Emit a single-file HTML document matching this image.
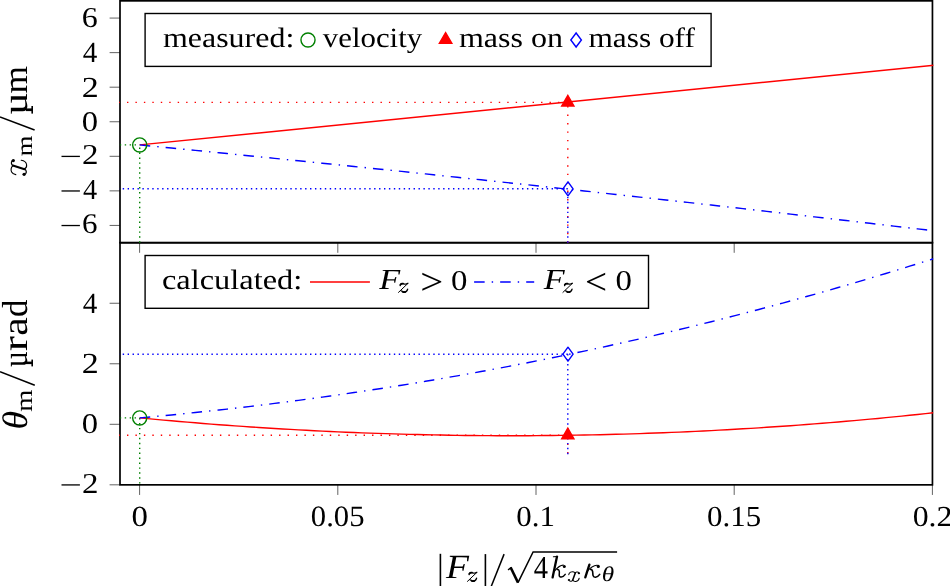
<!DOCTYPE html>
<html><head><meta charset="utf-8"><title>plot</title>
<style>html,body{margin:0;padding:0;background:#fff;overflow:hidden}svg{display:block;will-change:transform}</style></head>
<body><svg width="950" height="586" viewBox="0 0 950 586">
<rect width="950" height="586" fill="#fff"/>
<defs><clipPath id="ct"><rect x="119.15" y="0.0" width="814.1500000000001" height="243.54999999999998"/></clipPath><clipPath id="cb"><rect x="119.15" y="241.85" width="814.1500000000001" height="243.85000000000002"/></clipPath></defs><rect x="120.0" y="0.85" width="812.45" height="241.85" fill="none" stroke="#000" stroke-width="1.7"/><rect x="120.0" y="242.7" width="812.45" height="242.15000000000003" fill="none" stroke="#000" stroke-width="1.7"/><path d="M109.60,18.07L120.00,18.07" stroke="#000" stroke-width="0.62" fill="none" stroke-linecap="butt"/><path d="M109.60,52.63L120.00,52.63" stroke="#000" stroke-width="0.62" fill="none" stroke-linecap="butt"/><path d="M109.60,87.19L120.00,87.19" stroke="#000" stroke-width="0.62" fill="none" stroke-linecap="butt"/><path d="M109.60,121.75L120.00,121.75" stroke="#000" stroke-width="0.62" fill="none" stroke-linecap="butt"/><path d="M109.60,156.31L120.00,156.31" stroke="#000" stroke-width="0.62" fill="none" stroke-linecap="butt"/><path d="M109.60,190.87L120.00,190.87" stroke="#000" stroke-width="0.62" fill="none" stroke-linecap="butt"/><path d="M109.60,225.43L120.00,225.43" stroke="#000" stroke-width="0.62" fill="none" stroke-linecap="butt"/><path d="M109.60,303.26L120.00,303.26" stroke="#000" stroke-width="0.62" fill="none" stroke-linecap="butt"/><path d="M109.60,363.78L120.00,363.78" stroke="#000" stroke-width="0.62" fill="none" stroke-linecap="butt"/><path d="M109.60,424.30L120.00,424.30" stroke="#000" stroke-width="0.62" fill="none" stroke-linecap="butt"/><path d="M109.60,484.82L120.00,484.82" stroke="#000" stroke-width="0.62" fill="none" stroke-linecap="butt"/><path d="M139.60,242.70L139.60,252.80" stroke="#000" stroke-width="0.62" fill="none" stroke-linecap="butt"/><path d="M139.60,484.85L139.60,494.95" stroke="#000" stroke-width="0.62" fill="none" stroke-linecap="butt"/><path d="M337.80,242.70L337.80,252.80" stroke="#000" stroke-width="0.62" fill="none" stroke-linecap="butt"/><path d="M337.80,484.85L337.80,494.95" stroke="#000" stroke-width="0.62" fill="none" stroke-linecap="butt"/><path d="M536.00,242.70L536.00,252.80" stroke="#000" stroke-width="0.62" fill="none" stroke-linecap="butt"/><path d="M536.00,484.85L536.00,494.95" stroke="#000" stroke-width="0.62" fill="none" stroke-linecap="butt"/><path d="M734.20,242.70L734.20,252.80" stroke="#000" stroke-width="0.62" fill="none" stroke-linecap="butt"/><path d="M734.20,484.85L734.20,494.95" stroke="#000" stroke-width="0.62" fill="none" stroke-linecap="butt"/><path d="M932.40,242.70L932.40,252.80" stroke="#000" stroke-width="0.62" fill="none" stroke-linecap="butt"/><path d="M932.40,484.85L932.40,494.95" stroke="#000" stroke-width="0.62" fill="none" stroke-linecap="butt"/><g clip-path="url(#ct)"><path d="M119.80,144.90L139.70,144.90" stroke="#008000" stroke-width="1.41" fill="none" stroke-linecap="butt" stroke-dasharray="1.41 3.52" stroke-dashoffset="0"/><path d="M139.70,242.70L139.70,144.90" stroke="#008000" stroke-width="1.41" fill="none" stroke-linecap="butt" stroke-dasharray="1.41 3.52" stroke-dashoffset="0"/><path d="M567.80,102.40L118.00,102.40" stroke="#ff0000" stroke-width="1.41" fill="none" stroke-linecap="butt" stroke-dasharray="1.41 7.04" stroke-dashoffset="0"/><path d="M567.80,242.70L567.80,102.40" stroke="#ff0000" stroke-width="1.41" fill="none" stroke-linecap="butt" stroke-dasharray="1.41 7.04" stroke-dashoffset="0"/><path d="M567.80,188.80L118.00,188.80" stroke="#0000ff" stroke-width="1.41" fill="none" stroke-linecap="butt" stroke-dasharray="1.41 3.52" stroke-dashoffset="0"/><path d="M567.80,242.70L567.80,188.80" stroke="#0000ff" stroke-width="1.41" fill="none" stroke-linecap="butt" stroke-dasharray="1.41 3.52" stroke-dashoffset="0"/><path d="M139.70,144.90L934.45,65.20" stroke="#ff0000" stroke-width="1.41" fill="none" stroke-linecap="butt"/><path d="M139.70,144.90L147.64,145.68L155.57,146.46L163.51,147.24L171.45,148.02L179.39,148.80L187.32,149.59L195.26,150.38L203.20,151.17L211.14,151.96L219.07,152.75L227.01,153.54L234.95,154.34L242.89,155.14L250.82,155.93L258.76,156.73L266.70,157.54L274.64,158.34L282.57,159.15L290.51,159.95L298.45,160.76L306.39,161.57L314.32,162.38L322.26,163.20L330.20,164.01L338.14,164.83L346.07,165.65L354.01,166.47L361.95,167.29L369.89,168.11L377.82,168.94L385.76,169.76L393.70,170.59L401.64,171.42L409.57,172.25L417.51,173.09L425.45,173.92L433.39,174.76L441.32,175.60L449.26,176.44L457.20,177.28L465.14,178.12L473.07,178.97L481.01,179.81L488.95,180.66L496.89,181.51L504.82,182.36L512.76,183.21L520.70,184.07L528.64,184.92L536.58,185.78L544.51,186.64L552.45,187.50L560.39,188.36L568.33,189.23L576.26,190.10L584.20,190.96L592.14,191.83L600.08,192.70L608.01,193.58L615.95,194.45L623.89,195.33L631.83,196.20L639.76,197.08L647.70,197.96L655.64,198.84L663.58,199.73L671.51,200.61L679.45,201.50L687.39,202.39L695.33,203.28L703.26,204.17L711.20,205.07L719.14,205.96L727.08,206.86L735.01,207.76L742.95,208.66L750.89,209.56L758.83,210.46L766.76,211.37L774.70,212.28L782.64,213.19L790.58,214.10L798.51,215.01L806.45,215.92L814.39,216.84L822.33,217.75L830.26,218.67L838.20,219.59L846.14,220.51L854.08,221.44L862.01,222.36L869.95,223.29L877.89,224.22L885.83,225.15L893.76,226.08L901.70,227.01L909.64,227.94L917.58,228.88L925.51,229.82L933.45,230.76" stroke="#0000ff" stroke-width="1.41" fill="none" stroke-linejoin="round" stroke-dasharray="10.56 7.04 1.41 7.04"/></g><circle cx="139.70" cy="144.90" r="7.04" stroke="#008000" stroke-width="1.41" fill="none"/><path d="M567.80,95.36L573.90,105.92L561.70,105.92Z" fill="#ff0000" stroke="#ff0000" stroke-width="1.41" stroke-linejoin="miter"/><path d="M568.00,181.80L573.10,188.80L568.00,195.80L562.90,188.80Z" fill="none" stroke="#0000ff" stroke-width="1.41" stroke-linejoin="round"/><g clip-path="url(#cb)"><path d="M119.80,417.90L139.70,417.90" stroke="#008000" stroke-width="1.41" fill="none" stroke-linecap="butt" stroke-dasharray="1.41 3.52" stroke-dashoffset="0"/><path d="M139.70,417.90L139.70,484.85" stroke="#008000" stroke-width="1.41" fill="none" stroke-linecap="butt" stroke-dasharray="1.41 3.52" stroke-dashoffset="4.73"/><path d="M567.80,435.20L118.00,435.20" stroke="#ff0000" stroke-width="1.41" fill="none" stroke-linecap="butt" stroke-dasharray="1.41 7.04" stroke-dashoffset="0"/><path d="M567.80,435.20L567.80,454.56" stroke="#ff0000" stroke-width="1.41" fill="none" stroke-linecap="butt" stroke-dasharray="1.41 7.04" stroke-dashoffset="0"/><path d="M567.80,354.20L118.00,354.20" stroke="#0000ff" stroke-width="1.41" fill="none" stroke-linecap="butt" stroke-dasharray="1.41 3.52" stroke-dashoffset="0"/><path d="M567.80,354.20L567.80,454.56" stroke="#0000ff" stroke-width="1.41" fill="none" stroke-linecap="butt" stroke-dasharray="1.41 3.52" stroke-dashoffset="0"/><path d="M139.70,417.90L147.64,418.65L155.57,419.39L163.51,420.11L171.45,420.81L179.39,421.50L187.32,422.17L195.26,422.82L203.20,423.46L211.14,424.09L219.07,424.69L227.01,425.28L234.95,425.85L242.89,426.41L250.82,426.95L258.76,427.48L266.70,427.99L274.64,428.48L282.57,428.96L290.51,429.42L298.45,429.86L306.39,430.29L314.32,430.70L322.26,431.09L330.20,431.47L338.14,431.84L346.07,432.18L354.01,432.51L361.95,432.83L369.89,433.12L377.82,433.41L385.76,433.67L393.70,433.92L401.64,434.15L409.57,434.37L417.51,434.57L425.45,434.75L433.39,434.92L441.32,435.07L449.26,435.21L457.20,435.33L465.14,435.43L473.07,435.52L481.01,435.59L488.95,435.64L496.89,435.68L504.82,435.70L512.76,435.71L520.70,435.70L528.64,435.67L536.58,435.63L544.51,435.57L552.45,435.49L560.39,435.40L568.33,435.29L576.26,435.17L584.20,435.03L592.14,434.87L600.08,434.70L608.01,434.51L615.95,434.31L623.89,434.08L631.83,433.85L639.76,433.59L647.70,433.32L655.64,433.04L663.58,432.73L671.51,432.41L679.45,432.08L687.39,431.73L695.33,431.36L703.26,430.98L711.20,430.58L719.14,430.16L727.08,429.73L735.01,429.28L742.95,428.81L750.89,428.33L758.83,427.84L766.76,427.32L774.70,426.79L782.64,426.25L790.58,425.68L798.51,425.11L806.45,424.51L814.39,423.90L822.33,423.27L830.26,422.63L838.20,421.97L846.14,421.29L854.08,420.60L862.01,419.89L869.95,419.17L877.89,418.43L885.83,417.67L893.76,416.90L901.70,416.11L909.64,415.30L917.58,414.48L925.51,413.64L933.45,412.79" stroke="#ff0000" stroke-width="1.41" fill="none" stroke-linejoin="round"/><path d="M139.70,417.90L147.64,417.18L155.57,416.45L163.51,415.70L171.45,414.94L179.39,414.15L187.32,413.35L195.26,412.54L203.20,411.70L211.14,410.85L219.07,409.98L227.01,409.09L234.95,408.19L242.89,407.27L250.82,406.33L258.76,405.38L266.70,404.41L274.64,403.42L282.57,402.41L290.51,401.39L298.45,400.35L306.39,399.29L314.32,398.21L322.26,397.12L330.20,396.01L338.14,394.88L346.07,393.73L354.01,392.57L361.95,391.39L369.89,390.19L377.82,388.97L385.76,387.74L393.70,386.49L401.64,385.22L409.57,383.93L417.51,382.63L425.45,381.31L433.39,379.97L441.32,378.61L449.26,377.23L457.20,375.84L465.14,374.43L473.07,373.00L481.01,371.55L488.95,370.09L496.89,368.61L504.82,367.11L512.76,365.59L520.70,364.05L528.64,362.50L536.58,360.92L544.51,359.33L552.45,357.72L560.39,356.10L568.33,354.45L576.26,352.79L584.20,351.11L592.14,349.41L600.08,347.69L608.01,345.95L615.95,344.20L623.89,342.42L631.83,340.63L639.76,338.82L647.70,336.99L655.64,335.15L663.58,333.28L671.51,331.40L679.45,329.50L687.39,327.58L695.33,325.64L703.26,323.68L711.20,321.71L719.14,319.71L727.08,317.70L735.01,315.67L742.95,313.62L750.89,311.55L758.83,309.46L766.76,307.35L774.70,305.23L782.64,303.08L790.58,300.92L798.51,298.74L806.45,296.54L814.39,294.32L822.33,292.08L830.26,289.82L838.20,287.55L846.14,285.25L854.08,282.94L862.01,280.60L869.95,278.25L877.89,275.88L885.83,273.49L893.76,271.08L901.70,268.65L909.64,266.20L917.58,263.74L925.51,261.25L933.45,258.74" stroke="#0000ff" stroke-width="1.41" fill="none" stroke-linejoin="round" stroke-dasharray="10.56 7.04 1.41 7.04"/></g><circle cx="139.70" cy="417.90" r="7.04" stroke="#008000" stroke-width="1.41" fill="none"/><path d="M567.80,428.16L573.90,438.72L561.70,438.72Z" fill="#ff0000" stroke="#ff0000" stroke-width="1.41" stroke-linejoin="miter"/><path d="M568.00,347.20L573.10,354.20L568.00,361.20L562.90,354.20Z" fill="none" stroke="#0000ff" stroke-width="1.41" stroke-linejoin="round"/><rect x="145.1" y="13.5" width="566.0" height="52.900000000000006" fill="#fff" stroke="#000" stroke-width="1.4"/><rect x="145.1" y="255.5" width="503.4" height="52.80000000000001" fill="#fff" stroke="#000" stroke-width="1.4"/><circle cx="308.00" cy="40.00" r="7.04" stroke="#008000" stroke-width="1.41" fill="none"/><path d="M445.60,32.55L451.84,43.35L439.36,43.35Z" fill="#ff0000" stroke="#ff0000" stroke-width="1.41" stroke-linejoin="miter"/><path d="M576.10,33.00L581.40,40.00L576.10,47.00L570.80,40.00Z" fill="none" stroke="#0000ff" stroke-width="1.41" stroke-linejoin="miter"/><path d="M310.00,282.00L369.90,282.00" stroke="#ff0000" stroke-width="1.41" fill="none" stroke-linecap="butt"/><path d="M474.10,282.00L534.20,282.00" stroke="#0000ff" stroke-width="1.41" fill="none" stroke-linecap="butt" stroke-dasharray="10.56 7.04 1.41 7.04" stroke-dashoffset="0"/><g transform="matrix(0,-1,1,0,10.7,175.9)" fill="none" stroke="#000" stroke-linecap="round"><path d="M10.3,2.2L6.7,13.8" stroke-width="2.1"/><path d="M10.2,2.4C11.0,0.6 13.5,0.2 15.0,1.4" stroke-width="1.25"/><path d="M9.9,1.9C8.5,0.2 5.5,0.0 3.8,0.9C2.3,1.7 1.4,3.4 1.3,5.1" stroke-width="1.12"/><path d="M6.7,13.8C6.0,15.6 3.7,16.1 2.3,15.0" stroke-width="1.25"/><path d="M7.0,13.6C7.6,15.3 9.5,16.1 11.2,15.9C13.4,15.6 15.3,13.2 15.7,10.5" stroke-width="1.12"/><circle cx="15.3" cy="2.6" r="1.65" fill="#000" stroke="none"/><circle cx="1.6" cy="13.4" r="1.65" fill="#000" stroke="none"/></g><g transform="matrix(0.726,0,0,0.623,567.8,571.6)" fill="none" stroke="#000" stroke-linecap="round"><path d="M10.3,2.2L6.7,13.8" stroke-width="2.1"/><path d="M10.2,2.4C11.0,0.6 13.5,0.2 15.0,1.4" stroke-width="1.6"/><path d="M9.9,1.9C8.5,0.2 5.5,0.0 3.8,0.9C2.3,1.7 1.4,3.4 1.3,5.1" stroke-width="1.44"/><path d="M6.7,13.8C6.0,15.6 3.7,16.1 2.3,15.0" stroke-width="1.6"/><path d="M7.0,13.6C7.6,15.3 9.5,16.1 11.2,15.9C13.4,15.6 15.3,13.2 15.7,10.5" stroke-width="1.44"/><circle cx="15.3" cy="2.6" r="1.65" fill="#000" stroke="none"/><circle cx="1.6" cy="13.4" r="1.65" fill="#000" stroke="none"/></g><g transform="matrix(1.0,0,0,1.0,398.05,283.1)" fill="none" stroke="#000" stroke-linecap="round"><path d="M2.1,2.5C2.4,0.9 3.6,0.3 4.6,0.5C5.8,0.7 7.0,1.2 8.0,0.9C8.8,0.7 9.4,0.5 9.8,0.3" stroke-width="1.25"/><path d="M2.3,1.6C3.0,0.6 4.0,0.4 5.0,0.6" stroke-width="1.7"/><path d="M9.8,0.35L0.45,9.3" stroke-width="1.0"/><path d="M3.0,7.8C4.0,7.5 4.8,9.0 6.2,9.0C7.8,9.0 9.1,7.8 9.6,6.1" stroke-width="1.25"/><path d="M4.6,8.6C5.2,9.0 6.0,9.1 7.0,8.9" stroke-width="1.9"/></g><g transform="matrix(1.0,0,0,1.0,562.45,283.1)" fill="none" stroke="#000" stroke-linecap="round"><path d="M2.1,2.5C2.4,0.9 3.6,0.3 4.6,0.5C5.8,0.7 7.0,1.2 8.0,0.9C8.8,0.7 9.4,0.5 9.8,0.3" stroke-width="1.25"/><path d="M2.3,1.6C3.0,0.6 4.0,0.4 5.0,0.6" stroke-width="1.7"/><path d="M9.8,0.35L0.45,9.3" stroke-width="1.0"/><path d="M3.0,7.8C4.0,7.5 4.8,9.0 6.2,9.0C7.8,9.0 9.1,7.8 9.6,6.1" stroke-width="1.25"/><path d="M4.6,8.6C5.2,9.0 6.0,9.1 7.0,8.9" stroke-width="1.9"/></g><g transform="matrix(1.0,0,0,1.0,467.0,572.1)" fill="none" stroke="#000" stroke-linecap="round"><path d="M2.1,2.5C2.4,0.9 3.6,0.3 4.6,0.5C5.8,0.7 7.0,1.2 8.0,0.9C8.8,0.7 9.4,0.5 9.8,0.3" stroke-width="1.25"/><path d="M2.3,1.6C3.0,0.6 4.0,0.4 5.0,0.6" stroke-width="1.7"/><path d="M9.8,0.35L0.45,9.3" stroke-width="1.0"/><path d="M3.0,7.8C4.0,7.5 4.8,9.0 6.2,9.0C7.8,9.0 9.1,7.8 9.6,6.1" stroke-width="1.25"/><path d="M4.6,8.6C5.2,9.0 6.0,9.1 7.0,8.9" stroke-width="1.9"/></g><g fill="none" stroke="#000" stroke-linecap="round"><path d="M557.0,556.6L552.6,577.4" stroke-width="2.3"/><path d="M553.4,556.7L557.6,556.5" stroke-width="1.1"/><path d="M554.4,571.2C557.2,567.8 560.6,565.0 563.3,565.1" stroke-width="1.1"/><path d="M557.4,569.6C560.2,569.4 559.2,573.6 559.2,575.2C559.3,577.8 562.8,577.8 565.2,574.4" stroke-width="1.5"/><circle cx="564.3" cy="566.6" r="1.5" fill="#000" stroke="none"/></g><g fill="none" stroke="#000" stroke-linecap="round"><path d="M589.4,564.6L585.3,577.3" stroke-width="2.3"/><path d="M586.4,572.0C589.5,568.5 594.5,565.0 597.4,565.3" stroke-width="1.1"/><path d="M590.6,569.4C593.4,569.4 592.6,573.6 593.0,575.4C593.5,578.0 597.2,578.0 599.7,574.4" stroke-width="1.6"/><circle cx="598.3" cy="566.4" r="1.55" fill="#000" stroke="none"/></g><rect x="61.50" y="155.76" width="18.40" height="1.30" fill="#000"/><rect x="61.50" y="190.32" width="18.40" height="1.30" fill="#000"/><rect x="61.50" y="224.88" width="18.40" height="1.30" fill="#000"/><rect x="61.50" y="484.27" width="18.40" height="1.30" fill="#000"/><rect x="26.00" y="108.40" width="6.40" height="2.70" fill="#000"/><rect x="31.40" y="106.00" width="1.60" height="7.60" fill="#000"/><rect x="26.00" y="361.60" width="6.40" height="2.50" fill="#000"/><rect x="31.40" y="359.60" width="1.60" height="6.80" fill="#000"/><rect x="439.6" y="553.8" width="1.6" height="40" fill="#000"/><rect x="484.6" y="554.1" width="1.6" height="40" fill="#000"/><path d="M504.10,554.10L489.00,592.00" stroke="#000" stroke-width="1.5" fill="none" stroke-linecap="butt"/><path d="M508.0,569.9L511.2,567.6" stroke="#000" stroke-width="1.3" fill="none"/><path d="M510.6,567.4L518.0,582.6" stroke="#000" stroke-width="2.5" fill="none"/><path d="M518.0,582.6L533.1,552.0L617.1,552.0" stroke="#000" stroke-width="1.5" fill="none" stroke-linejoin="miter"/><path d="M0.00,117.00L34.60,130.00" stroke="#000" stroke-width="1.5" fill="none" stroke-linecap="butt"/><path d="M0.00,371.60L34.80,385.20" stroke="#000" stroke-width="1.5" fill="none" stroke-linecap="butt"/><g transform="translate(81.87,27.23) scale(1.0667,0.9600)"><text x="0" y="0" font-family='"Liberation Serif", serif' font-size="30" fill="#000" text-rendering="geometricPrecision">6</text></g><g transform="translate(82.71,62.03) scale(0.9714,0.9722)"><text x="0" y="0" font-family='"Liberation Serif", serif' font-size="30" fill="#000" text-rendering="geometricPrecision">4</text></g><g transform="translate(81.78,96.59) scale(1.1333,0.9722)"><text x="0" y="0" font-family='"Liberation Serif", serif' font-size="30" fill="#000" text-rendering="geometricPrecision">2</text></g><g transform="translate(81.84,130.91) scale(1.0880,0.9481)"><text x="0" y="0" font-family='"Liberation Serif", serif' font-size="30" fill="#000" text-rendering="geometricPrecision">0</text></g><g transform="translate(82.03,164.31) scale(1.1000,0.9620)"><text x="0" y="0" font-family='"Liberation Serif", serif' font-size="30" fill="#000" text-rendering="geometricPrecision">2</text></g><g transform="translate(82.93,198.87) scale(0.9429,0.9620)"><text x="0" y="0" font-family='"Liberation Serif", serif' font-size="30" fill="#000" text-rendering="geometricPrecision">4</text></g><g transform="translate(82.11,233.19) scale(1.0353,0.9500)"><text x="0" y="0" font-family='"Liberation Serif", serif' font-size="30" fill="#000" text-rendering="geometricPrecision">6</text></g><g transform="translate(82.71,312.66) scale(0.9714,0.9722)"><text x="0" y="0" font-family='"Liberation Serif", serif' font-size="30" fill="#000" text-rendering="geometricPrecision">4</text></g><g transform="translate(81.78,373.18) scale(1.1333,0.9722)"><text x="0" y="0" font-family='"Liberation Serif", serif' font-size="30" fill="#000" text-rendering="geometricPrecision">2</text></g><g transform="translate(81.84,433.46) scale(1.0880,0.9481)"><text x="0" y="0" font-family='"Liberation Serif", serif' font-size="30" fill="#000" text-rendering="geometricPrecision">0</text></g><g transform="translate(82.03,492.82) scale(1.1000,0.9620)"><text x="0" y="0" font-family='"Liberation Serif", serif' font-size="30" fill="#000" text-rendering="geometricPrecision">2</text></g><g transform="translate(131.53,526.06) scale(1.0960,0.9728)"><text x="0" y="0" font-family='"Liberation Serif", serif' font-size="30" fill="#000" text-rendering="geometricPrecision">0</text></g><g transform="translate(310.82,526.11) scale(1.0220,0.9854)"><text x="0" y="0" font-family='"Liberation Serif", serif' font-size="30" fill="#000" text-rendering="geometricPrecision">0.05</text></g><g transform="translate(516.31,525.81) scale(1.0290,0.9707)"><text x="0" y="0" font-family='"Liberation Serif", serif' font-size="30" fill="#000" text-rendering="geometricPrecision">0.1</text></g><g transform="translate(707.01,525.81) scale(1.0300,0.9707)"><text x="0" y="0" font-family='"Liberation Serif", serif' font-size="30" fill="#000" text-rendering="geometricPrecision">0.15</text></g><g transform="translate(912.67,525.82) scale(1.0609,0.9659)"><text x="0" y="0" font-family='"Liberation Serif", serif' font-size="30" fill="#000" text-rendering="geometricPrecision">0.2</text></g><g transform="translate(379.29,289.20) scale(1.1413,0.9692)"><text x="0" y="0" font-family='"Liberation Serif", serif' font-size="30" font-style="italic" fill="#000" text-rendering="geometricPrecision">F</text></g><g transform="translate(451.03,289.56) scale(1.0960,0.9580)"><text x="0" y="0" font-family='"Liberation Serif", serif' font-size="30" fill="#000" text-rendering="geometricPrecision">0</text></g><g transform="translate(543.69,289.20) scale(1.1413,0.9692)"><text x="0" y="0" font-family='"Liberation Serif", serif' font-size="30" font-style="italic" fill="#000" text-rendering="geometricPrecision">F</text></g><g transform="translate(615.43,289.56) scale(1.0960,0.9580)"><text x="0" y="0" font-family='"Liberation Serif", serif' font-size="30" fill="#000" text-rendering="geometricPrecision">0</text></g><g transform="translate(420.26,294.30) scale(1.3571,1.2351)"><text x="0" y="0" font-family='"Liberation Serif", serif' font-size="30" fill="#000" text-rendering="geometricPrecision">&gt;</text></g><g transform="translate(584.94,294.30) scale(1.3071,1.2351)"><text x="0" y="0" font-family='"Liberation Serif", serif' font-size="30" fill="#000" text-rendering="geometricPrecision">&lt;</text></g><g transform="translate(446.11,578.20) scale(1.2533,1.1282)"><text x="0" y="0" font-family='"Liberation Serif", serif' font-size="30" font-style="italic" fill="#000" text-rendering="geometricPrecision">F</text></g><g transform="translate(533.73,577.50) scale(0.9500,1.0633)"><text x="0" y="0" font-family='"Liberation Serif", serif' font-size="30" fill="#000" text-rendering="geometricPrecision">4</text></g><g transform="translate(601.80,581.45) scale(1.2000,1.0000)"><text x="0" y="0" font-family='"Liberation Serif", serif' font-size="21" font-style="italic" fill="#000" text-rendering="geometricPrecision">θ</text></g><g transform="translate(32.00,156.23) scale(1.0700,1.2645)"><g transform="rotate(-90)"><text x="0" y="0" font-family='"Liberation Serif", serif' font-size="21" fill="#000" text-rendering="geometricPrecision">m</text></g></g><g transform="translate(27.01,114.30) scale(1.1714,1.4071)"><g transform="rotate(-90)"><text x="0" y="0" font-family='"Liberation Serif", serif' font-size="30" fill="#000" text-rendering="geometricPrecision">u</text></g></g><g transform="translate(27.30,93.38) scale(1.1509,1.1773)"><g transform="rotate(-90)"><text x="0" y="0" font-family='"Liberation Serif", serif' font-size="30" fill="#000" text-rendering="geometricPrecision">m</text></g></g><g transform="translate(26.50,429.38) scale(1.1859,1.2560)"><g transform="rotate(-90)"><text x="0" y="0" font-family='"Liberation Serif", serif' font-size="30" font-style="italic" fill="#000" text-rendering="geometricPrecision">θ</text></g></g><g transform="translate(32.00,411.78) scale(1.1500,1.3613)"><g transform="rotate(-90)"><text x="0" y="0" font-family='"Liberation Serif", serif' font-size="21" fill="#000" text-rendering="geometricPrecision">m</text></g></g><g transform="translate(27.01,366.91) scale(1.1714,1.0286)"><g transform="rotate(-90)"><text x="0" y="0" font-family='"Liberation Serif", serif' font-size="30" fill="#000" text-rendering="geometricPrecision">u</text></g></g><g transform="translate(27.30,351.13) scale(1.2000,1.5111)"><g transform="rotate(-90)"><text x="0" y="0" font-family='"Liberation Serif", serif' font-size="30" fill="#000" text-rendering="geometricPrecision">r</text></g></g><g transform="translate(27.00,335.69) scale(1.2000,1.3872)"><g transform="rotate(-90)"><text x="0" y="0" font-family='"Liberation Serif", serif' font-size="30" fill="#000" text-rendering="geometricPrecision">a</text></g></g><g transform="translate(27.00,317.06) scale(1.2048,1.1630)"><g transform="rotate(-90)"><text x="0" y="0" font-family='"Liberation Serif", serif' font-size="30" fill="#000" text-rendering="geometricPrecision">d</text></g></g><g transform="translate(162.90,47.10) scale(1.0658,0.9345)"><text x="0" y="0" font-family='"Liberation Serif", serif' font-size="30" fill="#000" text-rendering="geometricPrecision">measured:</text></g><g transform="translate(322.80,47.10) scale(1.0280,0.9345)"><text x="0" y="0" font-family='"Liberation Serif", serif' font-size="30" fill="#000" text-rendering="geometricPrecision">velocity</text></g><g transform="translate(458.90,47.10) scale(1.0670,0.9345)"><text x="0" y="0" font-family='"Liberation Serif", serif' font-size="30" fill="#000" text-rendering="geometricPrecision">mass on</text></g><g transform="translate(588.42,47.10) scale(1.0449,0.9345)"><text x="0" y="0" font-family='"Liberation Serif", serif' font-size="30" fill="#000" text-rendering="geometricPrecision">mass off</text></g><g transform="translate(161.95,289.45) scale(1.0804,0.9345)"><text x="0" y="0" font-family='"Liberation Serif", serif' font-size="30" fill="#000" text-rendering="geometricPrecision">calculated:</text></g>
</svg></body></html>
